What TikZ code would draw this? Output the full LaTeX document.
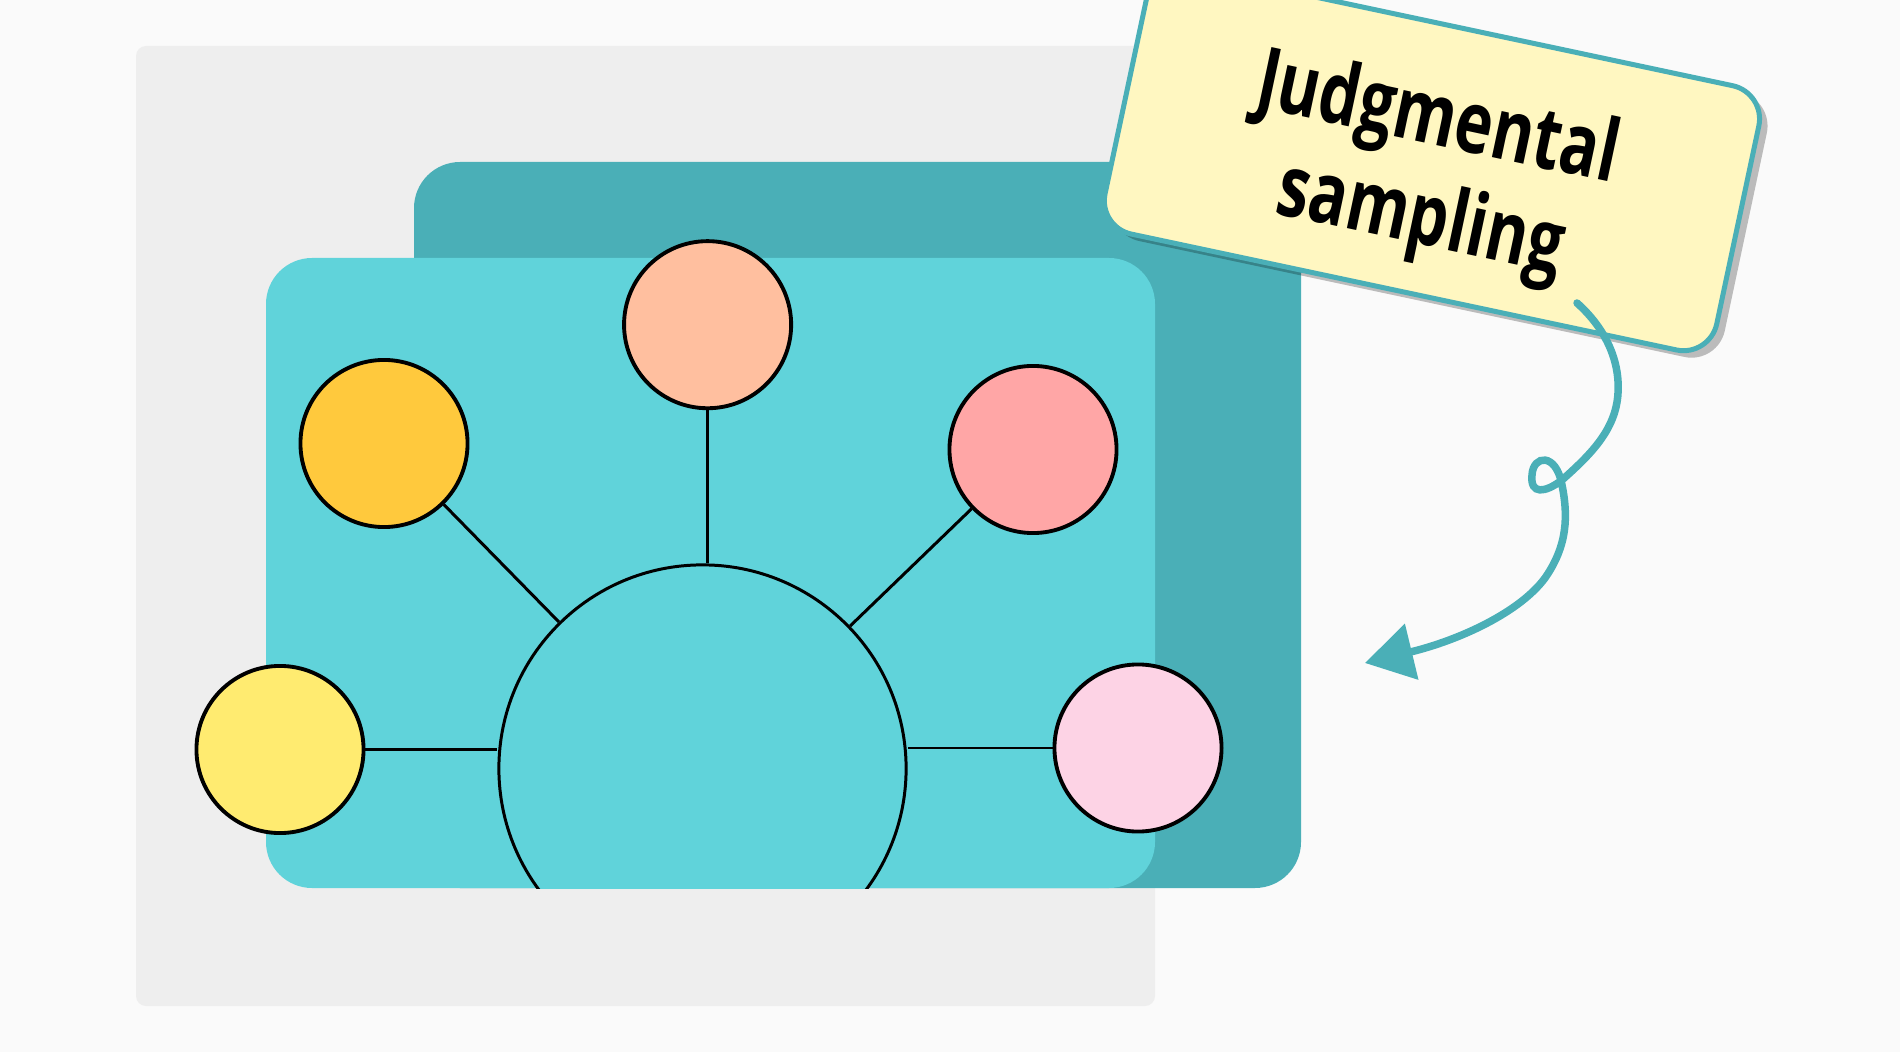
\documentclass[tikz,border=0pt]{standalone}
\usepackage{fontspec}
\newfontfamily\notefont{Open Sans}
\usetikzlibrary{arrows.meta}

\definecolor{bgc}{HTML}{FAFAFA}
\definecolor{panel}{HTML}{EEEEEE}
\definecolor{tealdk}{HTML}{4AAFB7}
\definecolor{teallt}{HTML}{60D3DA}
\definecolor{note}{HTML}{FFF7C1}
\definecolor{cpeach}{HTML}{FFBF9F}
\definecolor{cgold}{HTML}{FFC93D}
\definecolor{crose}{HTML}{FFA6A6}
\definecolor{cyel}{HTML}{FFEB70}
\definecolor{cpink}{HTML}{FDD3E5}

\begin{document}
\begin{tikzpicture}[x=0.01cm, y=-0.01cm,
      bub/.style={circle, draw=black, line width=1.1pt, minimum size=1.67cm, inner sep=0pt},
      conn/.style={line width=0.85pt},
      lbl/.style={font=\notefont\bfseries\fontsize{24.5}{29}\selectfont, inner sep=0pt, anchor=base, xscale=0.74},
      curl/.style={tealdk, line width=0.075cm, line cap=round, -{Triangle[length=0.48cm, width=0.56cm]}}]

    \clip (0,0) rectangle (1900,1052);
    \fill[bgc] (0,0) rectangle (1900,1052);

    % ---- Panels ----
    \fill[panel, rounded corners=0.1cm] (136,46) rectangle (1155,1006);
    \fill[tealdk, rounded corners=0.46cm] (414,162) rectangle (1301,888);
    \fill[teallt, rounded corners=0.46cm] (266,258) rectangle (1155,888);

    % ---- Hub (cut by the panel edge) ----
    \begin{scope}
    \clip (266,258) rectangle (1155,888);
    \node[circle, draw=black, fill=teallt, line width=0.85pt, minimum size=4.07cm, inner sep=0pt] (hub) at (702.5,768.5) {};
    \end{scope}

    % ---- Bubbles ----
    \node[bub, fill=cpeach] (top) at (707.6,324.7) {};
    \node[bub, fill=cgold]  (tl)  at (384,443.5)   {};
    \node[bub, fill=crose]  (tr)  at (1033,449.5)  {};
    \node[bub, fill=cyel]   (lf)  at (280,749.5)   {};
    \node[bub, fill=cpink]  (rt)  at (1138,748)    {};

    % ---- Spokes ----
    \draw[conn] (top.south) -- (top.south |- hub.north);
    \draw[conn] (tl) -- (hub);
    \draw[conn] (tr) -- (hub);
    \draw[conn] (lf.east) -- (lf.east -| hub.west);
    \draw[conn] (rt.west) -- (rt.west -| hub.east);

    % ---- Note card, tilted 12 deg ----
    \begin{scope}[shift={(1106,234)}, rotate=-12]
    \fill[black, opacity=0.25, rounded corners=0.34cm] (0cm,0cm) rectangle (6.25cm,2.7cm);
    \end{scope}
    \begin{scope}[shift={(1098,227)}, rotate=-12, transform shape]
    \filldraw[fill=note, draw=tealdk, line width=0.05cm, rounded corners=0.34cm] (0cm,0cm) rectangle (6.25cm,2.7cm);
    \node[lbl] (title1) at (3.1cm,1.5cm) {Judgmental};
    \node[lbl] (title2) at (3.14cm,0.5cm) {sampling};
    \end{scope}

    % ---- Curly arrow ----
    \coordinate (tail) at (1577,303);
    \coordinate (head) at (1365,663);
    \draw[curl] (tail) .. controls (1605,328) and (1620,360) .. (1618,393)
        .. controls (1616,430) and (1590,455) .. (1562,480)
        .. controls (1545,493) and (1530,495) .. (1532,475)
        .. controls (1533,455) and (1556,452) .. (1562,485)
        .. controls (1568,515) and (1568,545) .. (1545,578)
        .. controls (1520,612) and (1460,640) .. (head);

\end{tikzpicture}
\end{document}
